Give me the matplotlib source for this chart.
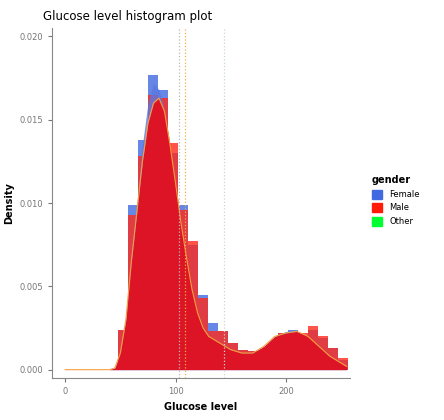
import matplotlib
matplotlib.use('Agg')
import matplotlib.pyplot as plt
from matplotlib.patches import Patch

# histogram bins (glucose level), width ~9
bin_left = [48 + 9.05 * i for i in range(23)]
female_hist = [0.0024, 0.0099, 0.0138, 0.0177, 0.0168, 0.0130, 0.0099, 0.0075, 0.0045, 0.0028, 0.0023,
               0.0016, 0.0012, 0.0011, 0.0009, 0.0013, 0.0022, 0.0024, 0.0021, 0.0024, 0.0019, 0.0013, 0.0006]
male_hist = [0.0024, 0.0093, 0.0128, 0.0165, 0.0163, 0.0136, 0.0096, 0.0077, 0.0043, 0.0023, 0.0023,
             0.0016, 0.0012, 0.0011, 0.0009, 0.0013, 0.0022, 0.0022, 0.0022, 0.0026, 0.0020, 0.0013, 0.0007]

# density curves
curve_x = [40, 45, 50, 55, 60, 65, 70, 75, 80, 85, 90, 95, 100, 105, 110, 115, 120, 125, 130,
           140, 150, 160, 170, 180, 190, 200, 210, 220, 230, 240, 250, 255]
male_dens = [0, 0.0001, 0.0010, 0.0030, 0.0065, 0.0095, 0.0125, 0.0148, 0.0160, 0.0163, 0.0155,
             0.0135, 0.0112, 0.0088, 0.0067, 0.0048, 0.0034, 0.0025, 0.0020, 0.0016, 0.0012, 0.0010,
             0.0010, 0.0014, 0.0020, 0.0022, 0.0023, 0.0020, 0.0014, 0.0008, 0.0004, 0.0002]
female_dens = [0, 0.0001, 0.0010, 0.0032, 0.0070, 0.0100, 0.0135, 0.0160, 0.0172, 0.0168, 0.0155,
               0.0132, 0.0108, 0.0085, 0.0065, 0.0047, 0.0033, 0.0025, 0.0020, 0.0016, 0.0012, 0.0010,
               0.0010, 0.0014, 0.0020, 0.0023, 0.0023, 0.0020, 0.0014, 0.0008, 0.0004, 0.0002]

mean_lines = [103, 109, 144]
mean_colors = ['#bbbbbb', '#f0b040', '#c8d8d0']

fig = plt.figure(figsize=(4.44, 4.2), dpi=100)
ax = fig.add_axes([0.117, 0.1, 0.671, 0.833])

ax.bar(bin_left, female_hist, width=9.05, align='edge', color='#4169e1', alpha=0.8, linewidth=0)
ax.bar(bin_left, male_hist, width=9.05, align='edge', color='#ff2a1a', alpha=0.8, linewidth=0)
ax.fill_between(curve_x, female_dens, color='#5a78e0', alpha=0.8, linewidth=0)
ax.fill_between(curve_x, male_dens, color='#dc1426', linewidth=0)
ax.plot([0] + curve_x, [0] + male_dens, color='#f5a040', linewidth=0.8)

for xv, c in zip(mean_lines, mean_colors):
    ax.axvline(xv, color=c, linestyle=':', linewidth=0.9)

ax.set_xlim(-12, 258)
ax.set_ylim(-0.0005, 0.0205)
ax.set_xticks([0, 100, 200])
ax.set_yticks([0, 0.005, 0.010, 0.015, 0.020])
ax.set_yticklabels(['0.000', '0.005', '0.010', '0.015', '0.020'])
ax.tick_params(labelsize=6, colors='#777777', length=3)
for s in ['top', 'right']:
    ax.spines[s].set_visible(False)
for s in ['left', 'bottom']:
    ax.spines[s].set_color('#888888')
ax.set_xlabel('Glucose level', fontsize=7, fontweight='bold')
ax.set_ylabel('Density', fontsize=7, fontweight='bold')
ax.set_title('Glucose level histogram plot', fontsize=8.5, loc='left', x=-0.03)

handles = [Patch(color='#4169e1', label='Female'), Patch(color='#ff1a0a', label='Male'),
           Patch(color='#00ff30', label='Other')]
leg = fig.legend(handles=handles, title='gender', loc='upper left', bbox_to_anchor=(0.82, 0.6),
                 frameon=False, fontsize=6, title_fontsize=7, handlelength=1.3, handleheight=1.3)
leg.get_title().set_fontweight('bold')
leg._legend_box.align = 'left'

fig.savefig('out.png', dpi=100, facecolor='white')
